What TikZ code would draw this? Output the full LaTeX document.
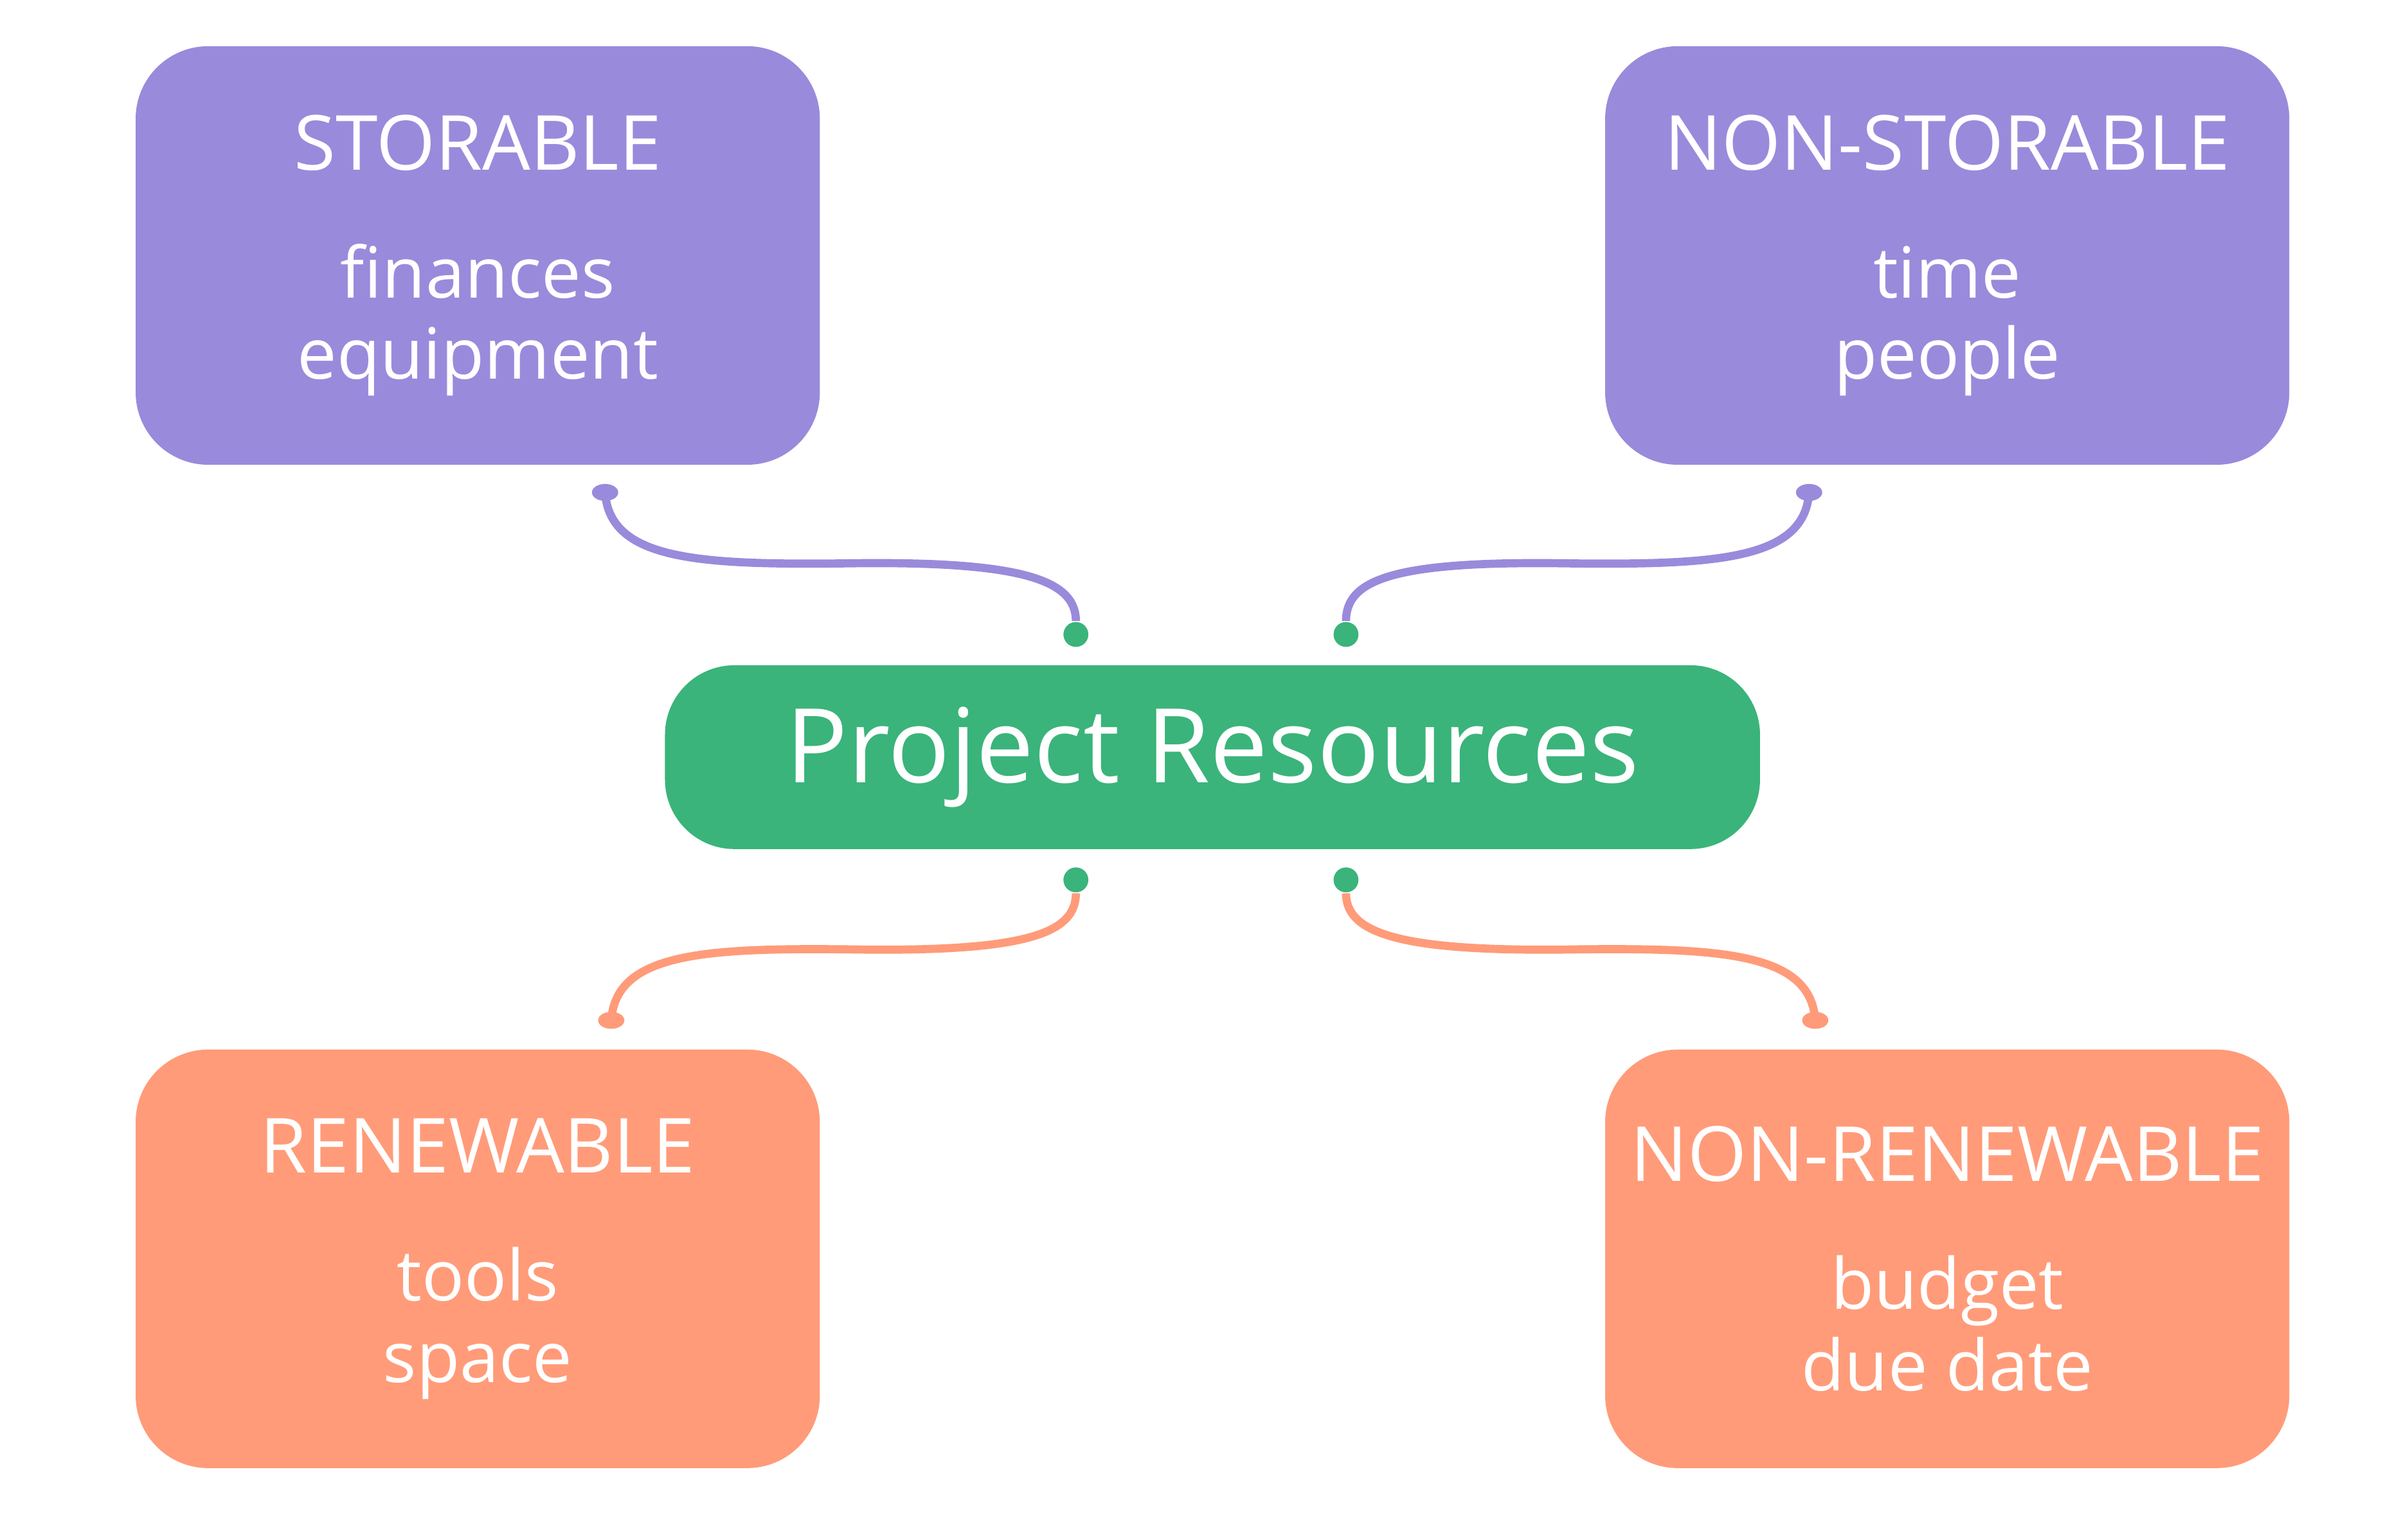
\documentclass[tikz,border=0pt]{standalone}
\usepackage{fontspec}
\setmainfont{Open Sans}
\usetikzlibrary{positioning}
\definecolor{lilac}{HTML}{9A8ADB}
\definecolor{mint}{HTML}{3AB47A}
\definecolor{coral}{HTML}{FF9B79}
\tikzset{
  catbox/.style={rounded corners=0.47cm, minimum width=4.43cm, minimum height=2.71cm,
    text=white, align=center, font=\fontsize{14}{15}\selectfont},
  hubbox/.style={rounded corners=0.45cm, fill=mint, minimum width=7.09cm, minimum height=1.19cm,
    text=white, font=\fontsize{19}{20}\selectfont},
  link/.style={line width=1.5pt},
  enddot/.style={fill, ellipse, inner sep=0pt, minimum width=0.17cm, minimum height=0.11cm},
  hubdot/.style={fill=mint, circle, inner sep=0pt, minimum size=0.16cm}
}
\usetikzlibrary{shapes.geometric}
\begin{document}
\begin{tikzpicture}[x=0.01cm,y=-0.01cm]
		\useasboundingbox (0,0) rectangle (1560,984);
		% boxes
		\node[catbox, fill=lilac] (stor) at (309.5,165.5) {STORABLE\\[0.3cm]\fontsize{13}{14}\selectfont finances\\\fontsize{13}{14}\selectfont equipment};
		\node[catbox, fill=lilac] (nonstor) at (1261.5,165.5) {NON-STORABLE\\[0.3cm]\fontsize{13}{14}\selectfont time\\\fontsize{13}{14}\selectfont people};
		\node[catbox, fill=coral] (renew) at (309.5,815.5) {RENEWABLE\\[0.3cm]\fontsize{13}{14}\selectfont tools\\\fontsize{13}{14}\selectfont space};
		\node[catbox, fill=coral] (nonrenew) at (1261.5,815.5) {NON-RENEWABLE\\[0.3cm]\fontsize{13}{14}\selectfont budget\\\fontsize{13}{14}\selectfont due date};
		\node[hubbox] (hub) at (785.5,490.5) {Project Resources};

		% connector ends
		\node[enddot, lilac] (e1) at (392,319) {};
		\node[enddot, lilac] (e2) at (1172,319) {};
		\node[enddot, coral] (e3) at (396,661) {};
		\node[enddot, coral] (e4) at (1176,661) {};
		\node[hubdot] (h1) at (697,411) {};
		\node[hubdot] (h2) at (872,411) {};
		\node[hubdot] (h3) at (697,570) {};
		\node[hubdot] (h4) at (872,570) {};

		% connectors
		\draw[link, lilac] (e1.center) .. controls (395,362) and (450,366) .. (545,365) .. controls (660,363) and (697,375) .. (h1);
		\draw[link, lilac] (e2.center) .. controls (1169,362) and (1114,366) .. (1019,365) .. controls (904,363) and (872,375) .. (h2);
		\draw[link, coral] (e3.center) .. controls (399,618) and (454,614) .. (549,615) .. controls (664,617) and (697,605) .. (h3);
		\draw[link, coral] (e4.center) .. controls (1173,618) and (1118,614) .. (1023,615) .. controls (908,617) and (872,605) .. (h4);
		\node[hubdot] at (h1) {};
		\node[hubdot] at (h2) {};
		\node[hubdot] at (h3) {};
		\node[hubdot] at (h4) {};
	\end{tikzpicture}
\end{document}
